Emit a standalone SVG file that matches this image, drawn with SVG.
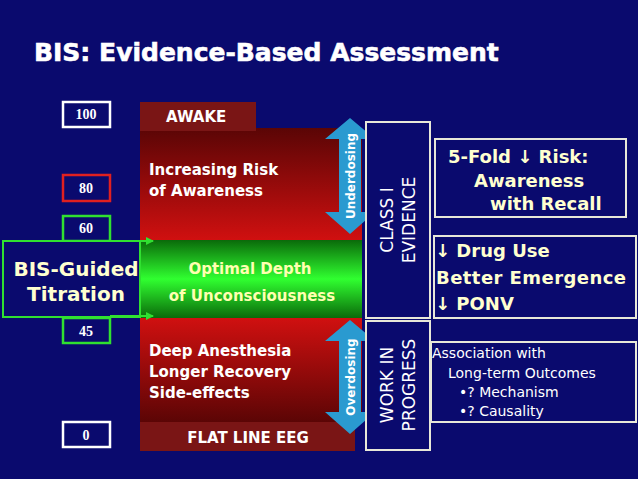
<svg xmlns="http://www.w3.org/2000/svg" width="638" height="479" viewBox="0 0 638 479">
<style>
.t{font-family:"DejaVu Sans",Verdana,sans-serif;font-weight:bold;fill:#fff}
.n{font-family:"Liberation Serif",serif;font-weight:bold;fill:#fff;font-size:14px;text-anchor:middle}
.nb{fill:#0a0a6e;stroke-width:2.5}
.w{font-family:"DejaVu Sans",Verdana,sans-serif;fill:#fff}
.bx{fill:#0a0a6e;stroke:#e8e8d8;stroke-width:2}
</style>
<defs>
<linearGradient id="rt" x1="0" y1="0" x2="0" y2="1"><stop offset="0" stop-color="#5a0505"/><stop offset="1" stop-color="#d01010"/></linearGradient>
<linearGradient id="rb" x1="0" y1="0" x2="0" y2="1"><stop offset="0" stop-color="#d01010"/><stop offset="1" stop-color="#5a0505"/></linearGradient>
<linearGradient id="g" x1="0" y1="0" x2="0" y2="1"><stop offset="0" stop-color="#0a6a0a"/><stop offset="0.5" stop-color="#30ff30"/><stop offset="1" stop-color="#0a6a0a"/></linearGradient>
<marker id="ah" markerWidth="8" markerHeight="8" refX="7" refY="4" orient="auto" markerUnits="userSpaceOnUse"><path d="M0,0 L8,4 L0,8Z" fill="#30e030"/></marker>
</defs>
<rect width="638" height="479" fill="#0a0a6e"/>
<text class="t" x="34" y="61" font-size="25" stroke="#fff" stroke-width="0.6">BIS: Evidence-Based Assessment</text>
<g id="scale">
<rect class="nb" x="63" y="102" width="47" height="25" stroke="#fff"/><text class="n" x="86" y="119">100</text>
<rect class="nb" x="63" y="175" width="47" height="26" stroke="#e02020"/><text class="n" x="86" y="193">80</text>
<rect class="nb" x="63" y="216" width="47" height="25" stroke="#30e030"/><text class="n" x="86" y="233">60</text>
<rect class="nb" x="63" y="318" width="47" height="25" stroke="#30e030"/><text class="n" x="86" y="336">45</text>
<rect class="nb" x="63" y="422" width="47" height="25" stroke="#fff"/><text class="n" x="86" y="440">0</text>
</g>
<g id="zones">
<rect x="140" y="128" width="222" height="112" fill="url(#rt)"/>
<rect x="140" y="318" width="222" height="105" fill="url(#rb)"/>
<rect x="140" y="240" width="222" height="78" fill="url(#g)"/>
<rect x="140" y="102" width="116" height="29" fill="#7a1515"/>
<text class="t" x="166" y="122" font-size="15">AWAKE</text>
<rect x="140" y="422" width="215" height="29" fill="#7a1515"/>
<text class="t" x="248" y="443" font-size="15" text-anchor="middle">FLAT LINE EEG</text>
<text class="t" x="149" y="175" font-size="15">Increasing Risk</text>
<text class="t" x="149" y="196" font-size="15">of Awareness</text>
<text class="t" x="250" y="274" font-size="15" text-anchor="middle" style="fill:#ffffb0">Optimal Depth</text>
<text class="t" x="252" y="301" font-size="15" text-anchor="middle" style="fill:#ffffb0">of Unconsciousness</text>
<text class="t" x="149" y="356" font-size="15">Deep Anesthesia</text>
<text class="t" x="149" y="377" font-size="15">Longer Recovery</text>
<text class="t" x="149" y="398" font-size="15">Side-effects</text>
</g>
<g id="bis">
<rect x="3" y="241" width="137" height="76" fill="#0a0a6e" stroke="#30e030" stroke-width="2"/>
<text class="t" x="76" y="276" font-size="20" text-anchor="middle" style="fill:#ffffd0">BIS-Guided</text>
<text class="t" x="76" y="301" font-size="20" text-anchor="middle" style="fill:#ffffd0">Titration</text>
</g>
<g id="connectors" stroke="#30e030" stroke-width="2" fill="none">
<line x1="110" y1="241" x2="153" y2="241" marker-end="url(#ah)"/>
<line x1="110" y1="316" x2="153" y2="316" marker-end="url(#ah)"/>
</g>
<g id="under">
<path d="M350,118 L375,139 L361,139 L361,212 L375,212 L350,234 L325,212 L339,212 L339,139 L325,139Z" fill="#2a9ad0"/>
<text class="t" transform="translate(355,176) rotate(-90)" font-size="12" text-anchor="middle">Underdosing</text>
</g>
<g id="over">
<path d="M350,320 L375,341 L361,341 L361,412 L375,412 L350,434 L325,412 L339,412 L339,341 L325,341Z" fill="#2a9ad0"/>
<text class="t" transform="translate(355,377) rotate(-90)" font-size="12" text-anchor="middle">Overdosing</text>
</g>
<g id="classI">
<rect class="bx" x="366" y="122" width="64" height="196"/>
<text class="w" transform="translate(393,220) rotate(-90)" font-size="17" text-anchor="middle">CLASS I</text>
<text class="w" transform="translate(415,220) rotate(-90)" font-size="17" text-anchor="middle">EVIDENCE</text>
</g>
<g id="wip">
<rect class="bx" x="366" y="321" width="64" height="129"/>
<text class="w" transform="translate(393,385) rotate(-90)" font-size="17" text-anchor="middle">WORK IN</text>
<text class="w" transform="translate(415,385) rotate(-90)" font-size="17" text-anchor="middle">PROGRESS</text>
</g>
<g id="b1">
<rect class="bx" x="435" y="139" width="191" height="78"/>
<text class="t" x="448" y="163" font-size="18" style="fill:#ffffd0">5-Fold ↓ Risk:</text>
<text class="t" x="474" y="187" font-size="18" style="fill:#ffffd0">Awareness</text>
<text class="t" x="490" y="210" font-size="18" style="fill:#ffffd0">with Recall</text>
</g>
<g id="b2">
<rect class="bx" x="434" y="236" width="202" height="82"/>
<text class="t" x="435" y="257" font-size="18" style="fill:#ffffd0">↓ Drug Use</text>
<text class="t" x="436" y="284" font-size="18" style="fill:#ffffd0" textLength="190">Better Emergence</text>
<text class="t" x="435" y="310" font-size="18" style="fill:#ffffd0">↓ PONV</text>
</g>
<g id="b3">
<rect class="bx" x="431" y="342" width="205" height="80"/>
<text class="w" x="432" y="358" font-size="14">Association with</text>
<text class="w" x="448" y="378" font-size="14">Long-term Outcomes</text>
<text class="w" x="459" y="397" font-size="14">•? Mechanism</text>
<text class="w" x="459" y="416" font-size="14">•? Causality</text>
</g>
</svg>
